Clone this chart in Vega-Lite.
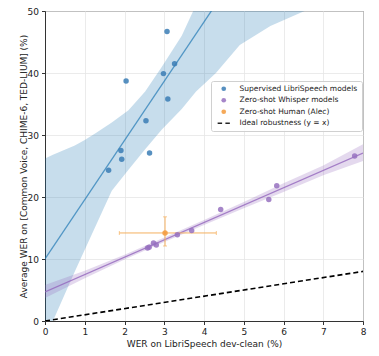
{
  "$schema": "https://vega.github.io/schema/vega-lite/v6.json",
  "width": 318,
  "height": 310,
  "autosize": {"type": "none"},
  "padding": {"left": 45, "top": 11, "right": 16, "bottom": 35},
  "datasets": {
    "blueBand": [
      {"x": 0, "y": -3, "hi": 26.2},
      {"x": 0.2, "y": 0, "hi": 26.8},
      {"x": 0.75, "y": 8, "hi": 28.3},
      {"x": 1.0, "y": 11.5, "hi": 29.2},
      {"x": 1.3, "y": 15.7, "hi": 30.4},
      {"x": 1.68, "y": 21, "hi": 32},
      {"x": 2.1, "y": 24.4, "hi": 34},
      {"x": 2.52, "y": 27.7, "hi": 37},
      {"x": 2.94, "y": 30.9, "hi": 41},
      {"x": 3.44, "y": 34.2, "hi": 46},
      {"x": 3.8, "y": 37, "hi": 51},
      {"x": 4.3, "y": 40, "hi": 58},
      {"x": 4.9, "y": 44.5, "hi": 65},
      {"x": 5.67, "y": 47.6, "hi": 75},
      {"x": 6.6, "y": 50.2, "hi": 85}
    ],
    "purpleBand": [
      {"x": 0, "y": 3.7, "hi": 5.8},
      {"x": 1, "y": 6.9, "hi": 8.1},
      {"x": 2, "y": 9.9, "hi": 10.7},
      {"x": 3, "y": 12.75, "hi": 13.45},
      {"x": 4, "y": 15.5, "hi": 16.3},
      {"x": 5, "y": 18.2, "hi": 19.2},
      {"x": 6, "y": 20.8, "hi": 22.2},
      {"x": 7, "y": 23.5, "hi": 25.1},
      {"x": 8, "y": 25.8, "hi": 28.5}
    ],
    "blueFit": [{"x": 0, "y": 10}, {"x": 4.3, "y": 51.1}],
    "purpleFit": [{"x": 0, "y": 4.7}, {"x": 8, "y": 27.1}],
    "ideal": [{"x": 0, "y": 0}, {"x": 8, "y": 8}],
    "humanH": [{"x": 1.87, "y": 14.2}, {"x": 4.31, "y": 14.2}],
    "humanV": [{"x": 3.02, "y": 12.1}, {"x": 3.02, "y": 16.8}],
    "points": [
      {"series": "Supervised LibriSpeech models", "x": 3.07, "y": 46.7},
      {"series": "Supervised LibriSpeech models", "x": 2.04, "y": 38.7},
      {"series": "Supervised LibriSpeech models", "x": 2.98, "y": 39.9},
      {"series": "Supervised LibriSpeech models", "x": 3.26, "y": 41.5},
      {"series": "Supervised LibriSpeech models", "x": 3.09, "y": 35.8},
      {"series": "Supervised LibriSpeech models", "x": 2.54, "y": 32.3},
      {"series": "Supervised LibriSpeech models", "x": 1.91, "y": 27.5},
      {"series": "Supervised LibriSpeech models", "x": 2.63, "y": 27.1},
      {"series": "Supervised LibriSpeech models", "x": 1.93, "y": 26.1},
      {"series": "Supervised LibriSpeech models", "x": 1.6, "y": 24.3},
      {"series": "Zero-shot Whisper models", "x": 2.58, "y": 11.76},
      {"series": "Zero-shot Whisper models", "x": 2.62, "y": 11.9},
      {"series": "Zero-shot Whisper models", "x": 2.73, "y": 12.6},
      {"series": "Zero-shot Whisper models", "x": 2.8, "y": 12.25},
      {"series": "Zero-shot Whisper models", "x": 3.33, "y": 13.9},
      {"series": "Zero-shot Whisper models", "x": 3.69, "y": 14.6},
      {"series": "Zero-shot Whisper models", "x": 4.42, "y": 18.0},
      {"series": "Zero-shot Whisper models", "x": 5.63, "y": 19.6},
      {"series": "Zero-shot Whisper models", "x": 5.83, "y": 21.8},
      {"series": "Zero-shot Whisper models", "x": 7.79, "y": 26.6},
      {"series": "Zero-shot Human (Alec)", "x": 3.02, "y": 14.2}
    ]
  },
  "encoding": {
    "x": {"field": "x", "type": "quantitative", "scale": {"domain": [0, 8], "nice": false, "zero": false},
          "axis": {"title": "WER on LibriSpeech dev-clean (%)", "values": [0,1,2,3,4,5,6,7,8], "labelOverlap": false, "titlePadding": 3}},
    "y": {"field": "y", "type": "quantitative", "scale": {"domain": [0, 50], "nice": false},
          "axis": {"title": "Average WER on [Common Voice, CHIME-6, TED-LIUM] (%)", "values": [0,10,20,30,40,50], "labelOverlap": false, "titlePadding": -1}}
  },
  "layer": [
    {
      "data": {"name": "blueBand"},
      "mark": {"type": "area", "color": "#1f77b4", "opacity": 0.25, "clip": true},
      "encoding": {"y2": {"field": "hi"}}
    },
    {
      "data": {"name": "purpleBand"},
      "mark": {"type": "area", "color": "#9467bd", "opacity": 0.25, "clip": true},
      "encoding": {"y2": {"field": "hi"}}
    },
    {
      "data": {"name": "blueFit"},
      "mark": {"type": "line", "color": "#1f77b4", "opacity": 0.7, "strokeWidth": 1.3, "clip": true},
      "encoding": {}
    },
    {
      "data": {"name": "purpleFit"},
      "mark": {"type": "line", "color": "#9467bd", "opacity": 0.8, "strokeWidth": 1.3, "clip": true},
      "encoding": {}
    },
    {
      "data": {"name": "ideal"},
      "mark": {"type": "line", "color": "#000000", "strokeWidth": 1.6, "strokeDash": [5, 3], "clip": true},
      "encoding": {}
    },
    {
      "data": {"name": "humanH"},
      "mark": {"type": "line", "color": "#f5b060", "strokeWidth": 1},
      "encoding": {}
    },
    {
      "data": {"name": "humanV"},
      "mark": {"type": "line", "color": "#f5b060", "strokeWidth": 1},
      "encoding": {}
    },
    {
      "data": {"name": "humanH"},
      "mark": {"type": "tick", "color": "#f5b060", "orient": "vertical", "size": 4, "thickness": 1}
    },
    {
      "data": {"name": "humanV"},
      "mark": {"type": "tick", "color": "#f5b060", "orient": "horizontal", "size": 4, "thickness": 1}
    },
    {
      "data": {"name": "points"},
      "mark": {"type": "point", "filled": true, "size": 30, "opacity": 0.85},
      "encoding": {
        "color": {
          "field": "series", "type": "nominal",
          "scale": {
            "domain": ["Supervised LibriSpeech models", "Zero-shot Whisper models", "Zero-shot Human (Alec)", "Ideal robustness (y = x)"],
            "range": ["#3a7db5", "#9671c0", "#f39a3c", "#000000"]
          },
          "legend": {
            "title": null,
            "orient": "none",
            "legendX": 166,
            "legendY": 70,
            "padding": 4,
            "symbolOffset": 5,
            "labelOffset": 12,
            "symbolSize": 22,
            "rowPadding": 2.5,
            "labelFontSize": 7.5,
            "labelFont": "DejaVu Sans",
            "labelColor": "#222",
            "strokeColor": "#d0d0d0",
            "fillColor": "rgba(255,255,255,0.85)",
            "cornerRadius": 2,
            "symbolOpacity": 0.85,
            "encode": {
              "symbols": {
                "update": {
                  "shape": {"signal": "datum.value === 'Ideal robustness (y = x)' ? 'M-2.6,0H-0.7M0.7,0H2.6' : 'circle'"},
                  "stroke": {"signal": "scale('color', datum.value)"},
                  "strokeWidth": {"signal": "datum.value === 'Ideal robustness (y = x)' ? 1.6 : 0"},
                  "fill": {"signal": "datum.value === 'Ideal robustness (y = x)' ? 'transparent' : scale('color', datum.value)"}
                }
              }
            }
          }
        }
      }
    }
  ],
  "config": {
    "font": "DejaVu Sans",
    "view": {"stroke": "#333333", "strokeWidth": 1},
    "axis": {
      "labelFont": "DejaVu Sans",
      "labelFontSize": 9,
      "labelColor": "#222",
      "titleFont": "DejaVu Sans",
      "titleFontSize": 9,
      "titleFontWeight": "normal",
      "titleColor": "#222",
      "tickSize": 3.5,
      "tickColor": "#333",
      "domainColor": "#333",
      "labelPadding": 3,
      "gridColor": "#e6e6e6",
      "gridWidth": 0.8,
      "labelOverlap": false,
      "labelFlush": false,
      "labelBound": false
    }
  }
}
